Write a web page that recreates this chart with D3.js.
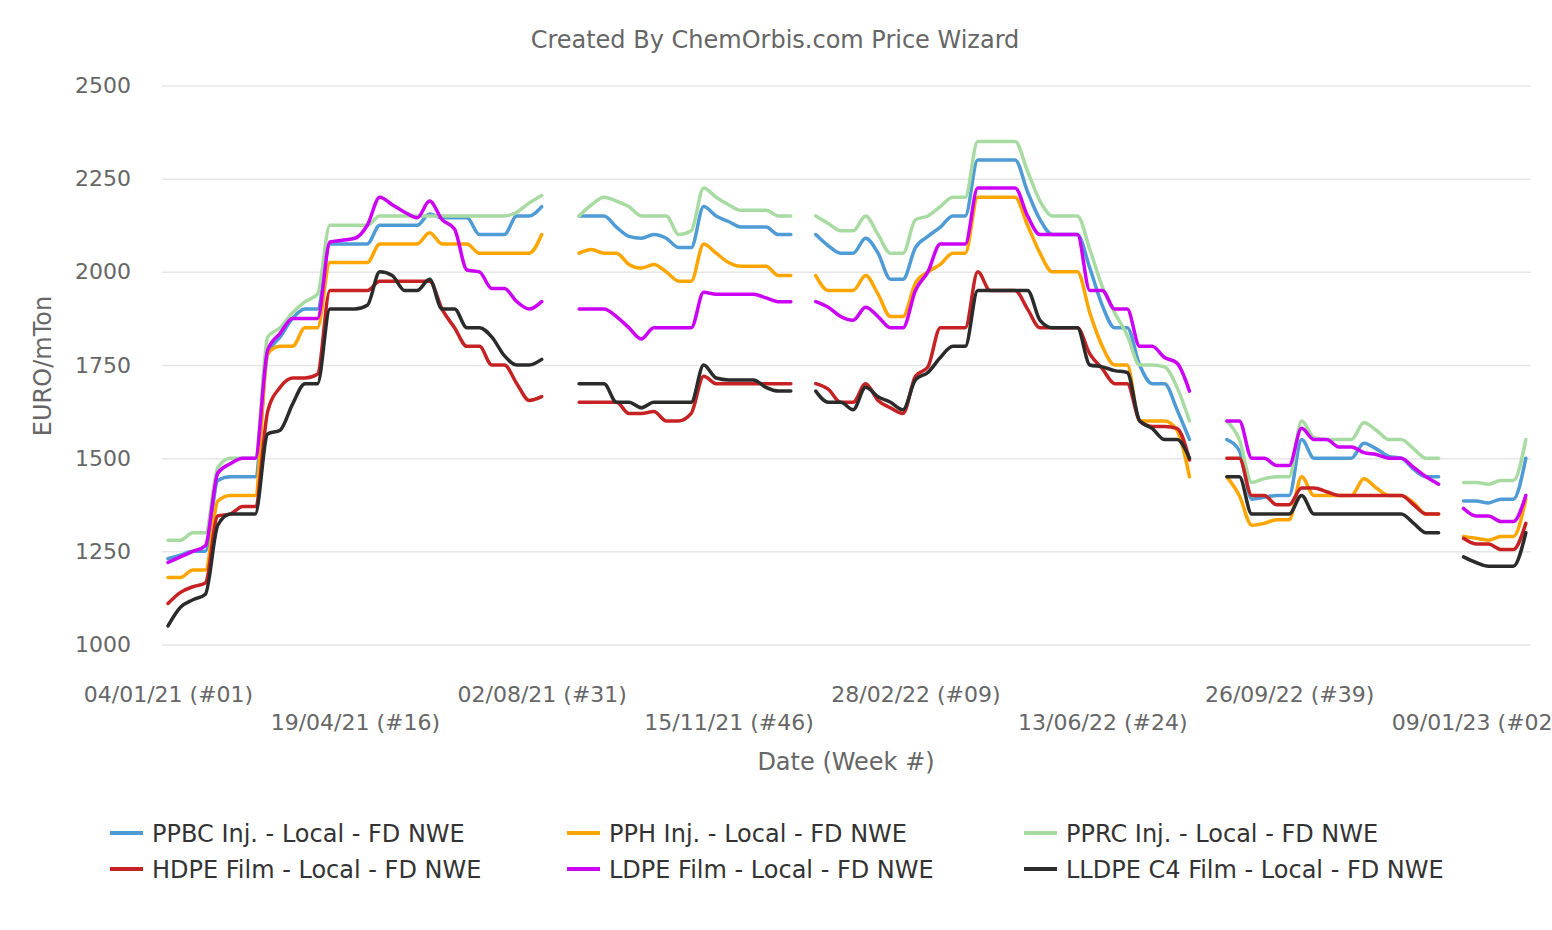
<!DOCTYPE html>
<html>
<head>
<meta charset="utf-8">
<script src="https://cdn.jsdelivr.net/npm/d3@7"></script>
<style>
  body { margin: 0; background: #fff; }
  text { font-family: "DejaVu Sans", sans-serif; }
</style>
</head>
<body>
<svg class="price-frame"></svg>
<script>
// weekly prices, week 0 = 04/01/21, null = no quote
const weeks = d3.range(0, 110);

const ppbc = [1230,1240,1250,1250,1440,1450,1450,1450,1780,1825,1875,1900,1900,2075,2075,2075,2075,2125,2125,2125,2125,2155,2145,2145,2145,2100,2100,2100,2150,2150,2175,
  null,null,
  2150,2150,2150,2120,2095,2090,2100,2090,2065,2065,2175,2150,2135,2120,2120,2120,2100,2100,
  null,
  2100,2070,2050,2050,2090,2050,1980,1980,2065,2095,2120,2150,2150,2300,2300,2300,2300,2215,2140,2100,2100,2100,2010,1910,1850,1850,1750,1700,1700,1630,1550,
  null,null,
  1550,1520,1390,1395,1400,1400,1550,1500,1500,1500,1500,1540,1525,1505,1500,1470,1450,1450,
  null,
  1385,1385,1380,1390,1390,1500];

const pph = [1180,1180,1200,1200,1385,1400,1400,1400,1780,1800,1800,1850,1850,2025,2025,2025,2025,2075,2075,2075,2075,2105,2075,2075,2075,2050,2050,2050,2050,2050,2100,
  null,null,
  2050,2060,2050,2050,2020,2010,2020,2000,1975,1975,2075,2050,2025,2015,2015,2015,1990,1990,
  null,
  1990,1950,1950,1950,1990,1940,1880,1880,1970,2000,2020,2050,2050,2200,2200,2200,2200,2125,2050,2000,2000,2000,1890,1800,1750,1750,1600,1600,1600,1575,1450,
  null,null,
  1450,1400,1320,1325,1335,1335,1450,1400,1400,1400,1400,1445,1420,1400,1400,1380,1350,1350,
  null,
  1290,1285,1280,1290,1290,1390];

const pprc = [1280,1280,1300,1300,1475,1500,1500,1500,1825,1850,1890,1920,1940,2125,2125,2125,2125,2150,2150,2150,2150,2150,2150,2150,2150,2150,2150,2150,2160,2185,2205,
  null,null,
  2150,2180,2200,2190,2175,2150,2150,2150,2100,2110,2225,2200,2180,2165,2165,2165,2150,2150,
  null,
  2150,2130,2110,2110,2150,2100,2050,2050,2140,2150,2175,2200,2200,2350,2350,2350,2350,2270,2190,2150,2150,2150,2060,1960,1890,1830,1750,1750,1745,1690,1600,
  null,null,
  1600,1550,1435,1445,1450,1450,1600,1555,1550,1550,1550,1595,1575,1550,1550,1525,1500,1500,
  null,
  1435,1435,1430,1440,1440,1550];

const hdpe = [1110,1140,1155,1165,1345,1350,1370,1370,1625,1690,1715,1715,1725,1950,1950,1950,1950,1975,1975,1975,1975,1975,1900,1850,1800,1800,1750,1750,1700,1655,1665,
  null,null,
  1650,1650,1650,1650,1620,1620,1625,1600,1600,1620,1720,1700,1700,1700,1700,1700,1700,1700,
  null,
  1700,1685,1650,1650,1700,1655,1635,1620,1720,1745,1850,1850,1850,2000,1950,1950,1950,1900,1850,1850,1850,1850,1780,1740,1700,1700,1600,1585,1585,1580,1495,
  null,null,
  1500,1500,1400,1400,1375,1375,1420,1420,1410,1400,1400,1400,1400,1400,1400,1375,1350,1350,
  null,
  1285,1270,1270,1255,1255,1325];

const ldpe = [1220,1235,1250,1265,1460,1485,1500,1500,1790,1835,1875,1875,1875,2080,2085,2090,2125,2200,2180,2160,2145,2190,2140,2115,2005,2000,1955,1955,1920,1900,1920,
  null,null,
  1900,1900,1900,1880,1850,1820,1850,1850,1850,1850,1945,1940,1940,1940,1940,1930,1920,1920,
  null,
  1920,1905,1880,1870,1905,1880,1850,1850,1950,2000,2075,2075,2075,2225,2225,2225,2225,2150,2100,2100,2100,2100,1950,1950,1900,1900,1800,1800,1770,1755,1680,
  null,null,
  1600,1600,1500,1500,1480,1480,1580,1550,1550,1530,1530,1515,1510,1500,1500,1475,1450,1430,
  null,
  1365,1345,1345,1330,1330,1400];

const lldpe = [1050,1100,1120,1135,1320,1350,1350,1350,1565,1575,1645,1700,1700,1900,1900,1900,1910,2000,1990,1950,1950,1980,1900,1900,1850,1850,1825,1775,1750,1750,1765,
  null,null,
  1700,1700,1700,1650,1650,1635,1650,1650,1650,1650,1750,1715,1710,1710,1710,1690,1680,1680,
  null,
  1680,1650,1650,1630,1690,1665,1650,1630,1710,1730,1770,1800,1800,1950,1950,1950,1950,1950,1870,1850,1850,1850,1750,1745,1735,1730,1600,1580,1550,1550,1500,
  null,null,
  1450,1450,1350,1350,1350,1350,1400,1350,1350,1350,1350,1350,1350,1350,1350,1325,1300,1300,
  null,
  1235,1220,1210,1210,1210,1300];

const seriesNames = ["PPBC Inj. - Local - FD NWE", "PPH Inj. - Local - FD NWE", "PPRC Inj. - Local - FD NWE",
  "HDPE Film - Local - FD NWE", "LDPE Film - Local - FD NWE", "LLDPE C4 Film - Local - FD NWE"];
const seriesColors = ["#4f9bd5", "#ffa500", "#a8dba2", "#c62224", "#cc00f5", "#2b2b2b"];

const tickWeeks = [0, 15, 30, 45, 60, 75, 90, 105];
const tickLabels = ["04/01/21 (#01)", "19/04/21 (#16)", "02/08/21 (#31)", "15/11/21 (#46)",
  "28/02/22 (#09)", "13/06/22 (#24)", "26/09/22 (#39)", "09/01/23 (#02)"];
const yTicks = [1000, 1250, 1500, 1750, 2000, 2250, 2500];

const allSeries = [ppbc, pph, pprc, hdpe, ldpe, lldpe].map((vals, i) => ({
  name: seriesNames[i],
  color: seriesColors[i],
  values: weeks.map(w => ({week: w, price: vals[w]}))
}));

const width = 1552, height = 930;
const plotLeft = 162, plotRight = 1531;

const svg = d3.select(".price-frame")
  .attr("width", width)
  .attr("height", height)

const xScale = d3.scaleLinear()
  .domain([0, 105])
  .range([168, 1476]);

const yScale = d3.scaleLinear()
  .domain([1000, 2500])
  .range([644.5, 85.5]);

svg.append("text")
  .attr("x", 775)
  .attr("y", 48)
  .attr("text-anchor", "middle")
  .attr("font-size", "24px")
  .attr("fill", "#666")
  .text("Created By ChemOrbis.com Price Wizard");

const yAxis = d3.axisLeft(yScale)
  .tickValues(yTicks)
  .tickSize(-(plotRight - plotLeft))
  .tickPadding(31)
  .tickFormat(d3.format("d"));

svg.append("g")
  .attr("transform", "translate(" + plotLeft + ",0)")
  .call(yAxis)
  .call(g => g.select(".domain").remove())
  .call(g => g.selectAll("line").attr("stroke", "#e6e6e6").attr("stroke-width", 1.5))
  .call(g => g.selectAll("text")
    .attr("font-size", "22px")
    .attr("fill", "#666")
    .attr("font-family", "DejaVu Sans"));

const xAxis = d3.axisBottom(xScale)
  .tickValues(tickWeeks)
  .tickSize(0)
  .tickFormat((d, i) => tickLabels[i]);

svg.append("g")
  .attr("transform", "translate(0,680)")
  .call(xAxis)
  .call(g => g.select(".domain").remove())
  .call(g => g.selectAll("text")
    .attr("font-size", "22px")
    .attr("fill", "#666")
    .attr("font-family", "DejaVu Sans")
    .attr("y", (d, i) => i % 2 ? 34 : 6));

svg.append("text")
  .attr("x", 846)
  .attr("y", 770)
  .attr("text-anchor", "middle")
  .attr("font-size", "24px")
  .attr("fill", "#666")
  .text("Date (Week #)");

svg.append("text")
  .attr("transform", "translate(51,366) rotate(-90)")
  .attr("text-anchor", "middle")
  .attr("font-size", "24px")
  .attr("fill", "#666")
  .text("EURO/mTon");

const line = d3.line()
  .defined(d => d.price != null)
  .x(d => xScale(d.week))
  .y(d => yScale(d.price))
  .curve(d3.curveMonotoneX);

svg.append("g")
  .selectAll("path")
  .data(allSeries)
  .enter().append("path")
  .attr("fill", "none")
  .attr("stroke", d => d.color)
  .attr("stroke-width", 3.5)
  .attr("stroke-linejoin", "round")
  .attr("stroke-linecap", "round")
  .attr("d", d => line(d.values));

const legend = svg.append("g")
  .selectAll("g")
  .data(allSeries)
  .enter().append("g")
  .attr("transform", (d, i) => "translate(" + (110 + (i % 3) * 457) + "," + (833 + Math.floor(i / 3) * 36) + ")");

legend.append("line")
  .attr("x1", 0)
  .attr("x2", 33)
  .attr("stroke", d => d.color)
  .attr("stroke-width", 4);

legend.append("text")
  .attr("x", 42)
  .attr("y", 8.5)
  .attr("font-size", "24px")
  .attr("fill", "#333")
  .text(d => d.name);
</script>
</body>
</html>
